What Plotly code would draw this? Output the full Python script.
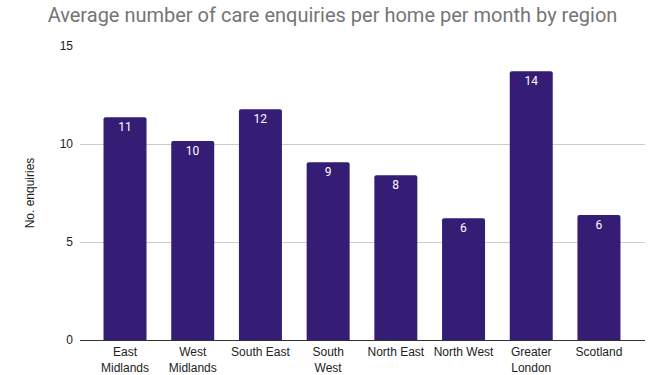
import plotly.graph_objects as go

categories = ["East<br>Midlands", "West<br>Midlands", "South East", "South<br>West",
              "North East", "North West", "Greater<br>London", "Scotland"]
values = [11.36, 10.15, 11.77, 9.07, 8.40, 6.21, 13.71, 6.38]
y_ticks = [0, 5, 10, 15]

fig = go.Figure(go.Bar(
    x=list(range(len(categories))),
    y=values,
    width=0.635,
    marker=dict(color="#351c75", cornerradius=2, line=dict(width=0)),
    texttemplate="%{y:.0f}",
    textposition="inside",
    insidetextanchor="end",
    textfont=dict(family="Roboto", size=12, color="white"),
    textangle=0,
    hoverinfo="skip",
))

fig.update_layout(
    width=665, height=375,
    margin=dict(l=80, r=20, t=46, b=35),
    paper_bgcolor="white", plot_bgcolor="white",
    showlegend=False,
    title=dict(text="Average number of care enquiries per home per month by region",
               x=0.5, xref="container", xanchor="center", y=0.96, yanchor="middle",
               font=dict(family="Roboto", size=20, color="#757575")),
)
fig.update_xaxes(
    range=[-0.665, 7.68], automargin=False,
    tickmode="array", tickvals=list(range(len(categories))), ticktext=categories,
    tickfont=dict(family="Liberation Sans, Arial", size=12, color="#222222"),
    showgrid=False, showline=False, zeroline=False, ticks="",
    tickangle=0, ticklabelstandoff=3,
)
fig.update_yaxes(
    range=[0, 15], automargin=False,
    tickmode="array", tickvals=y_ticks,
    tickfont=dict(family="Liberation Sans, Arial", size=12, color="#222222"),
    showgrid=True, gridcolor="#cccccc", gridwidth=1,
    zeroline=True, zerolinecolor="#333333", zerolinewidth=1,
    ticks="", ticklabelstandoff=6,
    title=dict(text="No. enquiries", standoff=22,
               font=dict(family="Liberation Sans, Arial", size=12, color="#222222")),
)
fig.write_html("out.html", config={"displayModeBar": False},
               post_script="document.body.style.margin='0';")
